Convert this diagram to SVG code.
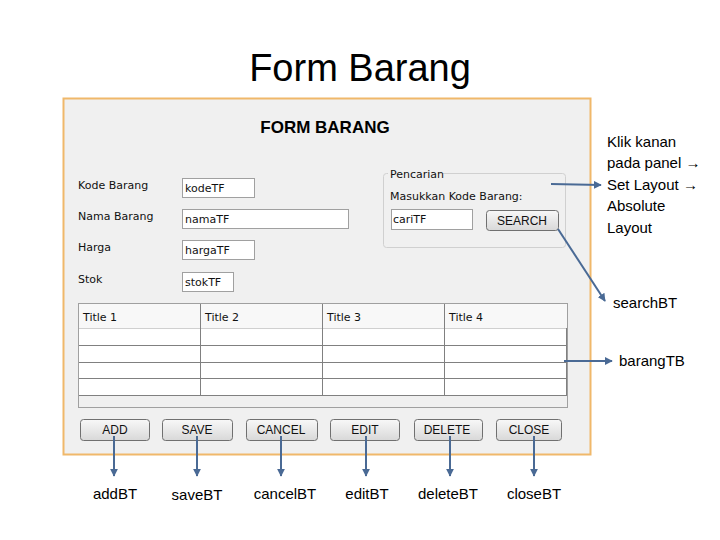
<svg xmlns="http://www.w3.org/2000/svg" width="720" height="540" viewBox="0 0 720 540">
<defs>
<marker id="ah" viewBox="0 0 10 10" refX="9" refY="5" markerWidth="4" markerHeight="4" orient="auto"><path d="M0,0L10,5L0,10z" fill="#4a6a95"/></marker>
<linearGradient id="bg" x1="0" y1="0" x2="0" y2="1"><stop offset="0" stop-color="#f8f8f8"/><stop offset="1" stop-color="#d8d8d8"/></linearGradient>
</defs>
<style>
.ui{font-family:"DejaVu Sans","Liberation Sans",sans-serif;font-size:11px;fill:#111}
.tf{fill:#fff;stroke:#a0a0a0}
.btn{fill:url(#bg);stroke:#707070}
.bt{font-family:"Liberation Sans",sans-serif;font-size:12px;fill:#111;text-anchor:middle}
.lbl{font-family:"Liberation Sans",sans-serif;font-size:15px;font-weight:normal;fill:#000}
.con{stroke:#4a6a95;stroke-width:2;fill:none;marker-end:url(#ah)}
.grid{stroke:#808080;stroke-width:1}
</style>
<rect width="720" height="540" fill="#fff"/>
<text x="360" y="81" text-anchor="middle" font-family="Liberation Sans,sans-serif" font-size="38">Form Barang</text>
<g id="window">
<rect x="63.5" y="98.5" width="527" height="356" fill="#f0f0f0" stroke="#f0b86a" stroke-width="2"/>
<text x="325" y="133" text-anchor="middle" font-family="Liberation Sans,sans-serif" font-weight="bold" font-size="17">FORM BARANG</text>
</g>
<g id="fields">
<text class="ui" x="78" y="189">Kode Barang</text>
<text class="ui" x="78" y="220">Nama Barang</text>
<text class="ui" x="78" y="251">Harga</text>
<text class="ui" x="78" y="283">Stok</text>
<rect class="tf" x="182.5" y="178.5" width="72" height="19"/><text class="ui" x="185" y="192">kodeTF</text>
<rect class="tf" x="182.5" y="209.5" width="166" height="19"/><text class="ui" x="185" y="223">namaTF</text>
<rect class="tf" x="182.5" y="240.5" width="72" height="19"/><text class="ui" x="185" y="254">hargaTF</text>
<rect class="tf" x="182.5" y="272.5" width="51" height="19"/><text class="ui" x="185" y="286">stokTF</text>
</g>
<g id="pencarian">
<rect x="383.5" y="173.5" width="182" height="74" rx="3" fill="#f0f0f0" stroke="#d0d0d0"/>
<rect x="388" y="168" width="52" height="12" fill="#f0f0f0"/>
<text class="ui" x="390" y="178">Pencarian</text>
<text class="ui" x="390" y="200">Masukkan Kode Barang:</text>
<rect class="tf" x="391.5" y="209.5" width="81" height="20"/><text class="ui" x="393" y="223">cariTF</text>
</g>
<g id="searchBtn"><rect class="btn" x="486.5" y="210.5" width="72" height="20" rx="3"/><text class="bt" x="522" y="225">SEARCH</text></g>
<g id="table">
<rect x="78.5" y="303.5" width="489" height="104" fill="#f0f0f0" stroke="#a0a0a0"/>
<rect x="79" y="304" width="488" height="24" fill="#f8f8f8"/>
<rect x="79" y="328" width="488" height="67" fill="#fff"/>
<g class="grid">
<line x1="79" y1="328.5" x2="567" y2="328.5" stroke="#d0d0d0"/>
<line x1="79" y1="345.5" x2="567" y2="345.5"/>
<line x1="79" y1="362.5" x2="567" y2="362.5"/>
<line x1="79" y1="378.5" x2="567" y2="378.5"/>
<line x1="79" y1="395.5" x2="567" y2="395.5"/>
<line x1="200.5" y1="304" x2="200.5" y2="395"/>
<line x1="322.5" y1="304" x2="322.5" y2="395"/>
<line x1="444.5" y1="304" x2="444.5" y2="395"/>
<line x1="566.5" y1="328" x2="566.5" y2="395"/>
</g>
<text class="ui" x="83" y="321">Title 1</text>
<text class="ui" x="205" y="321">Title 2</text>
<text class="ui" x="327" y="321">Title 3</text>
<text class="ui" x="449" y="321">Title 4</text>
</g>
<g id="btnAdd"><rect class="btn" x="80.5" y="419.5" width="69" height="21" rx="3"/><text class="bt" x="115" y="434">ADD</text></g>
<g id="btnSave"><rect class="btn" x="162.5" y="419.5" width="70" height="21" rx="3"/><text class="bt" x="197" y="434">SAVE</text></g>
<g id="btnCancel"><rect class="btn" x="246.5" y="419.5" width="71" height="21" rx="3"/><text class="bt" x="281" y="434">CANCEL</text></g>
<g id="btnEdit"><rect class="btn" x="330.5" y="419.5" width="69" height="21" rx="3"/><text class="bt" x="365" y="434">EDIT</text></g>
<g id="btnDelete"><rect class="btn" x="414.5" y="419.5" width="68" height="21" rx="3"/><text class="bt" x="447" y="434">DELETE</text></g>
<g id="btnClose"><rect class="btn" x="496.5" y="419.5" width="65" height="21" rx="3"/><text class="bt" x="529" y="434">CLOSE</text></g>
<g id="connectors">
<line class="con" x1="114" y1="436" x2="114" y2="476"/>
<line class="con" x1="197" y1="436" x2="197" y2="476"/>
<line class="con" x1="281" y1="436" x2="281" y2="476"/>
<line class="con" x1="366" y1="436" x2="366" y2="476"/>
<line class="con" x1="450" y1="436" x2="450" y2="476"/>
<line class="con" x1="534" y1="436" x2="534" y2="476"/>
<line class="con" x1="551" y1="184" x2="601" y2="185"/>
<line class="con" x1="558" y1="229" x2="605" y2="301"/>
<line class="con" x1="564" y1="361" x2="612" y2="361"/>
</g>
<g id="labels">
<text class="lbl" x="115" y="499" text-anchor="middle">addBT</text>
<text class="lbl" x="197" y="500" text-anchor="middle">saveBT</text>
<text class="lbl" x="285" y="499" text-anchor="middle">cancelBT</text>
<text class="lbl" x="367" y="499" text-anchor="middle">editBT</text>
<text class="lbl" x="448" y="499" text-anchor="middle">deleteBT</text>
<text class="lbl" x="534" y="499" text-anchor="middle">closeBT</text>
<text class="lbl" x="607" y="147">Klik kanan</text>
<text class="lbl" x="607" y="168">pada panel →</text>
<text class="lbl" x="607" y="190">Set Layout →</text>
<text class="lbl" x="607" y="211">Absolute</text>
<text class="lbl" x="607" y="233">Layout</text>
<text class="lbl" x="613" y="308">searchBT</text>
<text class="lbl" x="619" y="366">barangTB</text>
</g>
</svg>
